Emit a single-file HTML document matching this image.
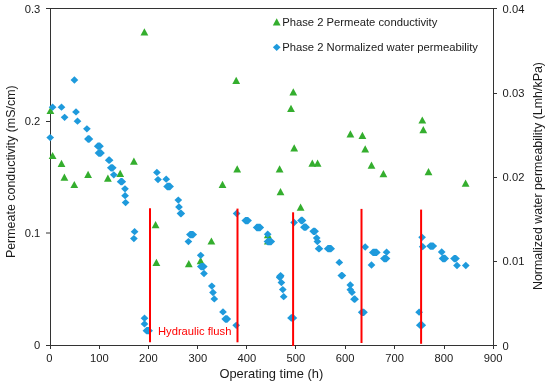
<!DOCTYPE html>
<html><head><meta charset="utf-8"><title>Chart</title>
<style>html,body{margin:0;padding:0;background:#fff;width:550px;height:384px;overflow:hidden}svg{display:block;font-family:"Liberation Sans",Arial,sans-serif}</style>
</head><body><svg width="550" height="384" viewBox="0 0 550 384"><rect x="50.5" y="8.5" width="443.0" height="337.0" fill="none" stroke="#333333" stroke-width="1"/><path d="M50.5 345.5V349.0 M99.5 345.5V349.0 M148.5 345.5V349.0 M197.5 345.5V349.0 M246.5 345.5V349.0 M295.5 345.5V349.0 M345.5 345.5V349.0 M394.5 345.5V349.0 M444.5 345.5V349.0 M493.5 345.5V349.0 M46.0 345.5H50.5 M46.0 233.0H50.5 M46.0 121.5H50.5 M46.0 8.5H50.5 M493.5 345.5H497.0 M493.5 261.5H497.0 M493.5 177.5H497.0 M493.5 93.5H497.0 M493.5 8.5H497.0" stroke="#333333" stroke-width="1" fill="none"/><g font-size="11.2" fill="#1a1a1a"><text x="49.4" y="361.6" text-anchor="middle">0</text><text x="99.3" y="361.6" text-anchor="middle">100</text><text x="148.3" y="361.6" text-anchor="middle">200</text><text x="197.8" y="361.6" text-anchor="middle">300</text><text x="246.9" y="361.6" text-anchor="middle">400</text><text x="295.9" y="361.6" text-anchor="middle">500</text><text x="345.2" y="361.6" text-anchor="middle">600</text><text x="394.7" y="361.6" text-anchor="middle">700</text><text x="443.9" y="361.6" text-anchor="middle">800</text><text x="493.2" y="361.6" text-anchor="middle">900</text><text x="40.3" y="349.0" text-anchor="end">0</text><text x="40.3" y="237.4" text-anchor="end">0.1</text><text x="40.3" y="125.0" text-anchor="end">0.2</text><text x="40.3" y="12.7" text-anchor="end">0.3</text><text x="502.6" y="349.7">0</text><text x="502.6" y="265.4">0.01</text><text x="502.6" y="181.2">0.02</text><text x="502.6" y="97.0">0.03</text><text x="502.6" y="12.7">0.04</text></g><text x="219.4" y="377.9" font-size="12.9" fill="#1a1a1a">Operating time (h)</text><text transform="translate(14.6 258.1) rotate(-90)" font-size="12.45" fill="#1a1a1a">Permeate conductivity (mS/cm)</text><text transform="translate(542.45 290.1) rotate(-90)" font-size="12.45" fill="#1a1a1a">Normalized water permeability (Lmh/kPa)</text><g fill="#34ae2e"><path d="M144.40 28.30L148.30 35.50L140.50 35.50Z"/><path d="M236.20 76.70L240.10 83.90L232.30 83.90Z"/><path d="M293.30 88.30L297.20 95.50L289.40 95.50Z"/><path d="M291.00 104.80L294.90 112.00L287.10 112.00Z"/><path d="M50.40 106.90L54.30 114.10L46.50 114.10Z"/><path d="M422.30 116.40L426.20 123.60L418.40 123.60Z"/><path d="M423.30 126.00L427.20 133.20L419.40 133.20Z"/><path d="M350.40 130.20L354.30 137.40L346.50 137.40Z"/><path d="M362.40 131.80L366.30 139.00L358.50 139.00Z"/><path d="M294.20 144.20L298.10 151.40L290.30 151.40Z"/><path d="M365.20 145.30L369.10 152.50L361.30 152.50Z"/><path d="M52.60 151.90L56.50 159.10L48.70 159.10Z"/><path d="M133.90 157.60L137.80 164.80L130.00 164.80Z"/><path d="M61.50 159.70L65.40 166.90L57.60 166.90Z"/><path d="M312.30 159.60L316.20 166.80L308.40 166.80Z"/><path d="M317.60 159.60L321.50 166.80L313.70 166.80Z"/><path d="M371.50 161.50L375.40 168.70L367.60 168.70Z"/><path d="M237.20 165.20L241.10 172.40L233.30 172.40Z"/><path d="M279.60 165.20L283.50 172.40L275.70 172.40Z"/><path d="M428.50 168.00L432.40 175.20L424.60 175.20Z"/><path d="M120.20 169.80L124.10 177.00L116.30 177.00Z"/><path d="M88.10 170.80L92.00 178.00L84.20 178.00Z"/><path d="M64.40 173.60L68.30 180.80L60.50 180.80Z"/><path d="M107.90 174.60L111.80 181.80L104.00 181.80Z"/><path d="M383.40 170.10L387.30 177.30L379.50 177.30Z"/><path d="M465.60 179.60L469.50 186.80L461.70 186.80Z"/><path d="M74.30 180.90L78.20 188.10L70.40 188.10Z"/><path d="M222.50 180.70L226.40 187.90L218.60 187.90Z"/><path d="M280.50 188.00L284.40 195.20L276.60 195.20Z"/><path d="M300.60 203.50L304.50 210.70L296.70 210.70Z"/><path d="M155.60 221.00L159.50 228.20L151.70 228.20Z"/><path d="M211.40 237.40L215.30 244.60L207.50 244.60Z"/><path d="M267.80 231.00L271.70 238.20L263.90 238.20Z"/><path d="M267.80 237.40L271.70 244.60L263.90 244.60Z"/><path d="M156.40 258.80L160.30 266.00L152.50 266.00Z"/><path d="M188.80 260.00L192.70 267.20L184.90 267.20Z"/><path d="M200.60 257.00L204.50 264.20L196.70 264.20Z"/></g><g fill="#1e9adc"><path d="M70.55 80.00L74.40 76.35L78.25 80.00L74.40 83.65Z"/><path d="M48.75 107.20L52.60 103.55L56.45 107.20L52.60 110.85Z"/><path d="M57.65 107.20L61.50 103.55L65.35 107.20L61.50 110.85Z"/><path d="M72.15 111.90L76.00 108.25L79.85 111.90L76.00 115.55Z"/><path d="M60.75 117.30L64.60 113.65L68.45 117.30L64.60 120.95Z"/><path d="M73.65 121.20L77.50 117.55L81.35 121.20L77.50 124.85Z"/><path d="M83.05 128.80L86.90 125.15L90.75 128.80L86.90 132.45Z"/><path d="M46.35 137.60L50.20 133.95L54.05 137.60L50.20 141.25Z"/><path d="M84.05 139.00L87.90 135.35L89.40 135.35L93.25 139.00L89.40 142.65L87.90 142.65Z"/><path d="M93.85 146.20L97.70 142.55L100.00 142.55L103.85 146.20L100.00 149.85L97.70 149.85Z"/><path d="M94.65 153.00L98.50 149.35L101.00 149.35L104.85 153.00L101.00 156.65L98.50 156.65Z"/><path d="M104.85 160.20L108.70 156.55L109.60 156.55L113.45 160.20L109.60 163.85L108.70 163.85Z"/><path d="M106.95 167.80L110.80 164.15L112.80 164.15L116.65 167.80L112.80 171.45L110.80 171.45Z"/><path d="M109.95 174.80L113.80 171.15L117.65 174.80L113.80 178.45Z"/><path d="M116.75 181.70L120.60 178.05L122.30 178.05L126.15 181.70L122.30 185.35L120.60 185.35Z"/><path d="M121.15 188.80L125.00 185.15L128.85 188.80L125.00 192.45Z"/><path d="M121.25 195.70L125.10 192.05L128.95 195.70L125.10 199.35Z"/><path d="M121.75 202.60L125.60 198.95L129.45 202.60L125.60 206.25Z"/><path d="M130.75 231.70L134.60 228.05L138.45 231.70L134.60 235.35Z"/><path d="M130.05 238.60L133.90 234.95L137.75 238.60L133.90 242.25Z"/><path d="M140.65 318.20L144.50 314.55L148.35 318.20L144.50 321.85Z"/><path d="M140.65 323.90L144.50 320.25L148.35 323.90L144.50 327.55Z"/><path d="M142.55 330.70L146.40 327.05L149.10 327.05L152.95 330.70L149.10 334.35L146.40 334.35Z"/><path d="M153.05 172.40L156.90 168.75L160.75 172.40L156.90 176.05Z"/><path d="M154.15 179.60L158.00 175.95L161.85 179.60L158.00 183.25Z"/><path d="M162.35 179.20L166.20 175.55L170.05 179.20L166.20 182.85Z"/><path d="M163.25 186.50L167.10 182.85L170.10 182.85L173.95 186.50L170.10 190.15L167.10 190.15Z"/><path d="M174.45 200.10L178.30 196.45L182.15 200.10L178.30 203.75Z"/><path d="M175.15 207.00L179.00 203.35L182.85 207.00L179.00 210.65Z"/><path d="M176.65 213.50L180.50 209.85L181.30 209.85L185.15 213.50L181.30 217.15L180.50 217.15Z"/><path d="M186.05 234.60L189.90 230.95L193.20 230.95L197.05 234.60L193.20 238.25L189.90 238.25Z"/><path d="M184.55 241.60L188.40 237.95L192.25 241.60L188.40 245.25Z"/><path d="M196.85 255.30L200.70 251.65L204.55 255.30L200.70 258.95Z"/><path d="M196.95 266.60L200.80 262.95L203.80 262.95L207.65 266.60L203.80 270.25L200.80 270.25Z"/><path d="M200.15 273.50L204.00 269.85L207.85 273.50L204.00 277.15Z"/><path d="M207.95 286.10L211.80 282.45L215.65 286.10L211.80 289.75Z"/><path d="M209.15 292.50L213.00 288.85L216.85 292.50L213.00 296.15Z"/><path d="M210.45 298.90L214.30 295.25L218.15 298.90L214.30 302.55Z"/><path d="M219.15 311.90L223.00 308.25L226.85 311.90L223.00 315.55Z"/><path d="M221.35 319.00L225.20 315.35L227.30 315.35L231.15 319.00L227.30 322.65L225.20 322.65Z"/><path d="M232.35 325.30L236.20 321.65L240.05 325.30L236.20 328.95Z"/><path d="M232.75 213.50L236.60 209.85L240.45 213.50L236.60 217.15Z"/><path d="M241.45 220.60L245.30 216.95L248.10 216.95L251.95 220.60L248.10 224.25L245.30 224.25Z"/><path d="M252.75 227.50L256.60 223.85L260.30 223.85L264.15 227.50L260.30 231.15L256.60 231.15Z"/><path d="M263.85 234.20L267.70 230.55L271.55 234.20L267.70 237.85Z"/><path d="M263.65 241.60L267.50 237.95L271.30 237.95L275.15 241.60L271.30 245.25L267.50 245.25Z"/><path d="M275.95 277.50L276.75 275.60L280.60 271.95L284.45 275.60L283.65 277.50L279.80 281.15Z"/><path d="M277.55 282.60L281.40 278.95L285.25 282.60L281.40 286.25Z"/><path d="M278.95 289.60L282.80 285.95L286.65 289.60L282.80 293.25Z"/><path d="M279.85 296.70L283.70 293.05L287.55 296.70L283.70 300.35Z"/><path d="M287.15 317.90L291.00 314.25L293.40 314.25L297.25 317.90L293.40 321.55L291.00 321.55Z"/><path d="M290.25 222.50L294.10 218.85L297.95 222.50L294.10 226.15Z"/><path d="M297.15 220.50L301.00 216.85L302.50 216.85L306.35 220.50L302.50 224.15L301.00 224.15Z"/><path d="M300.05 227.20L303.90 223.55L306.10 223.55L309.95 227.20L306.10 230.85L303.90 230.85Z"/><path d="M309.35 231.30L313.20 227.65L315.10 227.65L318.95 231.30L315.10 234.95L313.20 234.95Z"/><path d="M312.85 238.00L316.70 234.35L320.55 238.00L316.70 241.65Z"/><path d="M313.55 241.50L317.40 237.85L321.25 241.50L317.40 245.15Z"/><path d="M314.75 248.70L318.60 245.05L319.40 245.05L323.25 248.70L319.40 252.35L318.60 252.35Z"/><path d="M323.85 248.70L327.70 245.05L331.20 245.05L335.05 248.70L331.20 252.35L327.70 252.35Z"/><path d="M335.45 262.40L339.30 258.75L343.15 262.40L339.30 266.05Z"/><path d="M337.45 275.60L341.30 271.95L342.40 271.95L346.25 275.60L342.40 279.25L341.30 279.25Z"/><path d="M346.45 285.00L350.30 281.35L354.15 285.00L350.30 288.65Z"/><path d="M346.45 289.70L350.30 286.05L354.15 289.70L350.30 293.35Z"/><path d="M348.15 292.30L352.00 288.65L355.85 292.30L352.00 295.95Z"/><path d="M350.15 299.20L354.00 295.55L355.10 295.55L358.95 299.20L355.10 302.85L354.00 302.85Z"/><path d="M357.85 312.30L361.70 308.65L364.00 308.65L367.85 312.30L364.00 315.95L361.70 315.95Z"/><path d="M361.35 247.00L365.20 243.35L369.05 247.00L365.20 250.65Z"/><path d="M368.95 252.40L372.80 248.75L376.80 248.75L380.65 252.40L376.80 256.05L372.80 256.05Z"/><path d="M382.75 252.20L386.60 248.55L390.45 252.20L386.60 255.85Z"/><path d="M380.05 258.60L383.90 254.95L386.50 254.95L390.35 258.60L386.50 262.25L383.90 262.25Z"/><path d="M367.65 265.00L371.50 261.35L375.35 265.00L371.50 268.65Z"/><path d="M415.25 312.20L419.10 308.55L422.95 312.20L419.10 315.85Z"/><path d="M415.95 325.20L419.80 321.55L422.30 321.55L426.15 325.20L422.30 328.85L419.80 328.85Z"/><path d="M418.25 237.30L422.10 233.65L425.95 237.30L422.10 240.95Z"/><path d="M418.85 246.70L422.70 243.05L426.55 246.70L422.70 250.35Z"/><path d="M426.25 246.10L430.10 242.45L433.30 242.45L437.15 246.10L433.30 249.75L430.10 249.75Z"/><path d="M437.85 252.00L441.70 248.35L445.55 252.00L441.70 255.65Z"/><path d="M438.75 258.50L442.60 254.85L445.20 254.85L449.05 258.50L445.20 262.15L442.60 262.15Z"/><path d="M450.15 258.60L454.00 254.95L456.00 254.95L459.85 258.60L456.00 262.25L454.00 262.25Z"/><path d="M453.15 265.50L457.00 261.85L460.85 265.50L457.00 269.15Z"/><path d="M461.95 265.50L465.80 261.85L469.65 265.50L465.80 269.15Z"/></g><g stroke="#ff0000" stroke-width="2"><path d="M150.0 208.3V342.3"/><path d="M237.5 208.6V342.3"/><path d="M293.1 212.3V346"/><path d="M361.5 208.9V343"/><path d="M421.1 209.6V343.8"/></g><text x="158" y="335.3" font-size="11.2" fill="#ff0000">Hydraulic flush</text><g fill="#34ae2e"><path d="M276.70 18.20L280.60 25.40L272.80 25.40Z"/></g><g fill="#1e9adc"><path d="M272.85 47.30L276.70 43.65L280.55 47.30L276.70 50.95Z"/></g><g font-size="11.25" fill="#1a1a1a"><text x="282.2" y="25.5">Phase 2 Permeate conductivity</text><text x="282.2" y="50.6">Phase 2 Normalized water permeability</text></g></svg></body></html>
